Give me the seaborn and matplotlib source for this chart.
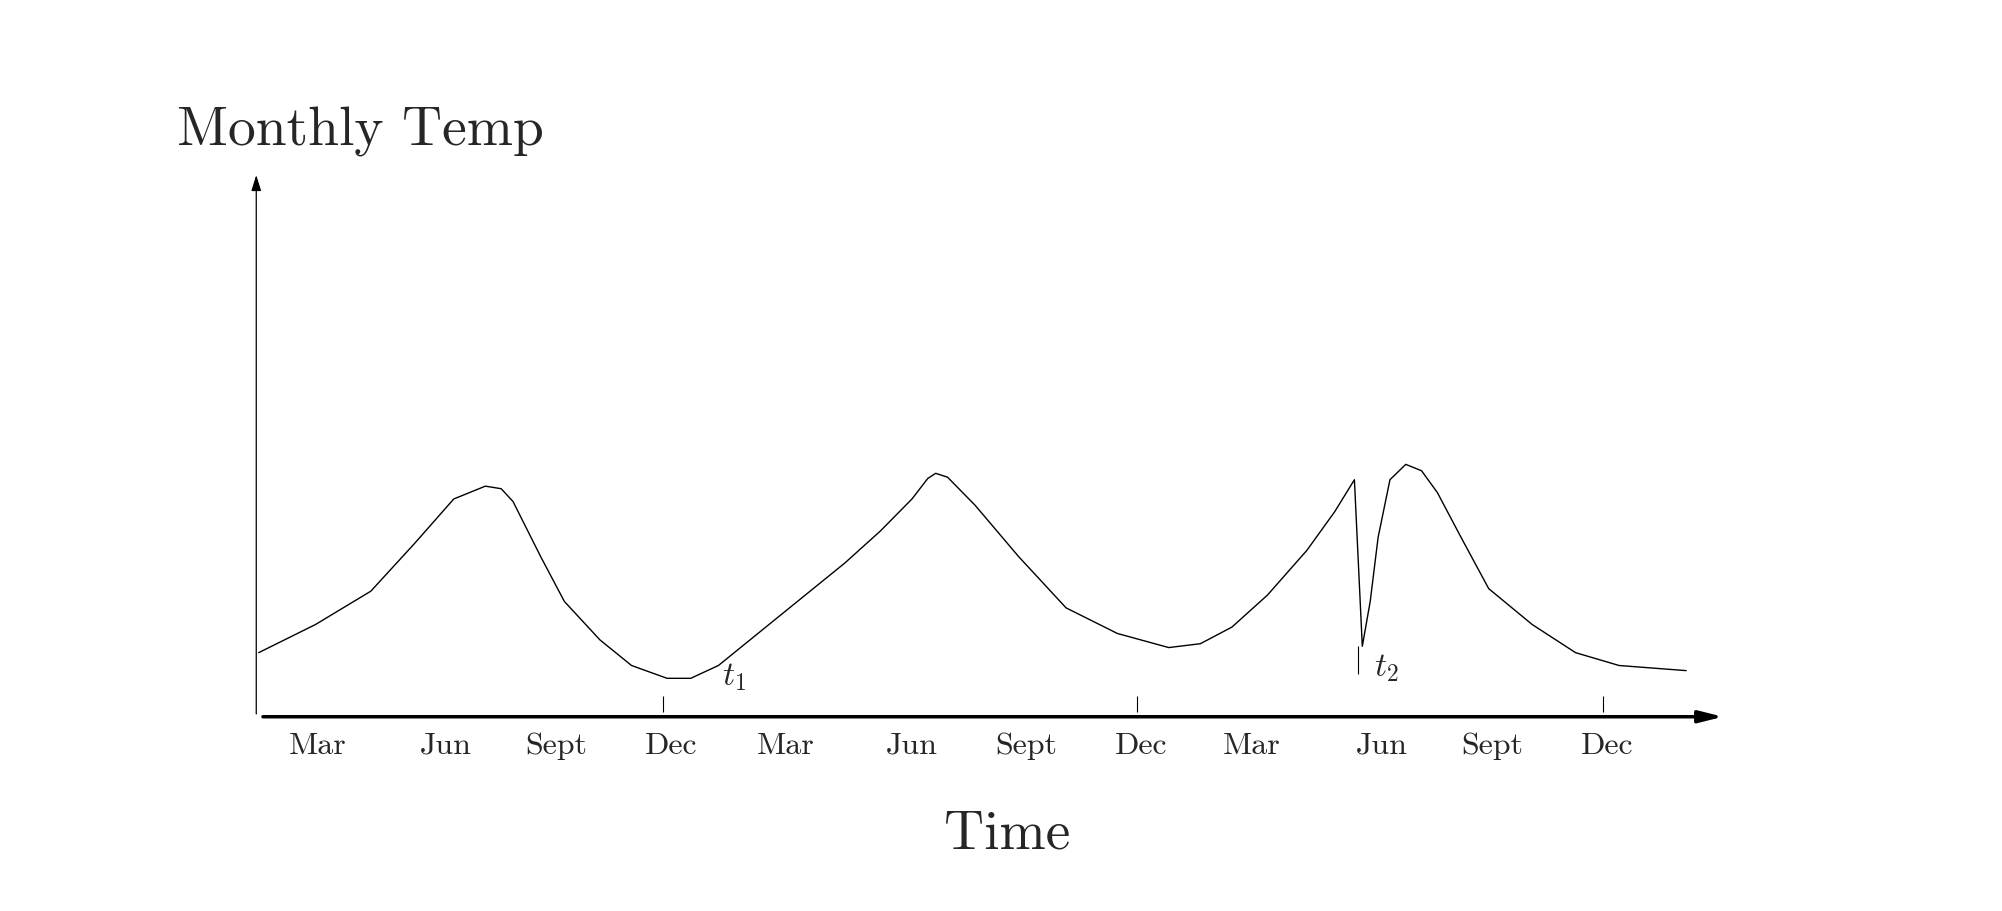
import matplotlib
matplotlib.use("Agg")
import matplotlib.pyplot as plt
import seaborn as sns
import pandas as pd

sns.set_theme(style="white")
plt.rcParams['font.family'] = ['cmr10', 'DejaVu Serif']
plt.rcParams['mathtext.fontset'] = 'cm'
plt.rcParams['axes.formatter.use_mathtext'] = True

# time in months, temperature in arbitrary units
months = [0.06, 1.5, 2.9, 4.0, 5.0, 5.8, 6.2, 6.5, 7.2, 7.8, 8.7, 9.5, 10.4, 11.0, 11.7,
          12.5, 13.3, 14.9, 15.8, 16.6, 17.0, 17.2, 17.5, 18.2, 19.3, 20.5, 21.8, 23.1,
          23.9, 24.7, 25.6, 26.6, 27.3, 27.8, 28.0, 28.2, 28.4, 28.7, 29.1, 29.5, 29.9,
          30.5, 31.2, 32.3, 33.4, 34.5, 36.2]
temps = [50, 72, 98, 135, 170, 180, 178, 168, 125, 90, 60, 40, 30, 30, 40,
         60, 80, 120, 145, 170, 186, 190, 187, 165, 125, 85, 65, 54,
         57, 70, 95, 130, 160, 185, 55, 90, 140, 185, 197, 192, 175,
         140, 100, 72, 50, 40, 36]

month_labels = ["Mar", "Jun", "Sept", "Dec"] * 3
label_pos = [1.56, 4.8, 7.6, 10.5, 13.4, 16.6, 19.5, 22.4, 25.2, 28.5, 31.3, 34.2]
dec_ticks = [10.3, 22.3, 34.1]

df = pd.DataFrame({"month": months, "temp": temps})

fig = plt.figure(figsize=(20.02, 9.12), dpi=100)
ax = fig.add_axes([0.128, 0.213, 0.734, 0.597])
sns.lineplot(data=df, x="month", y="temp", ax=ax, color="black", linewidth=1.0)
ax.set_xlim(0, 37.2)
ax.set_ylim(0, 425)
for s in ax.spines.values():
    s.set_visible(False)
ax.set_xticks([])
ax.set_yticks([])
ax.set_xlabel("")
ax.set_ylabel("")

# axes arrows
ax.annotate("", xy=(0, 425), xytext=(0, 0),
            arrowprops=dict(arrowstyle="-|>,head_length=0.8,head_width=0.25", color="black", lw=0.9),
            annotation_clip=False)
ax.annotate("", xy=(37.2, 0), xytext=(0.1, 0),
            arrowprops=dict(arrowstyle="-|>,head_length=1.2,head_width=0.3", color="black", lw=2.5),
            annotation_clip=False)

ax.vlines(dec_ticks, 4, 16, color="black", lw=0.8)
ax.vlines([27.9], 33, 55, color="black", lw=0.8)

for lab, p in zip(month_labels, label_pos):
    ax.text(p, -22, lab, ha="center", va="center", fontsize=23)

ax.text(12.1, 32, r"$t_1$", ha="center", va="center", fontsize=24)
ax.text(28.6, 39, r"$t_2$", ha="center", va="center", fontsize=24)

fig.text(0.18, 0.855, "Monthly Temp", ha="center", va="center", fontsize=40)
fig.text(0.503, 0.085, "Time", ha="center", va="center", fontsize=40)

fig.savefig("out.png", dpi=100)
